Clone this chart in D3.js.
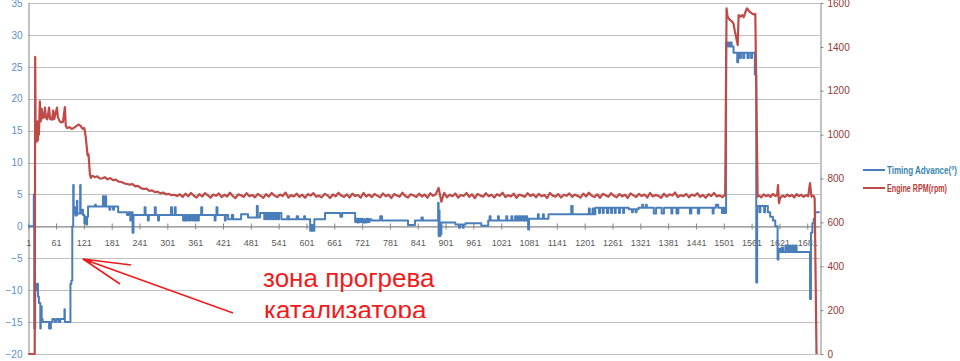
<!DOCTYPE html>
<html>
<head>
<meta charset="utf-8">
<script src="https://cdn.jsdelivr.net/npm/d3@7"></script>
<style>
  body { margin: 0; background: #fff; }
  svg { display: block; }
</style>
</head>
<body>
<div id="chart"></div>
<script>
// ---- data ----
const categoryCount = 1708;
const xTickLabels = [1, 61, 121, 181, 241, 301, 361, 421, 481, 541, 601, 661, 721, 781, 841, 901, 961,
    1021, 1081, 1141, 1201, 1261, 1321, 1381, 1441, 1501, 1561, 1621, 1681];
const advanceTicks = [-20, -15, -10, -5, 0, 5, 10, 15, 20, 25, 30, 35];
const rpmTicks = [0, 200, 400, 600, 800, 1000, 1200, 1400, 1600];

// Timing Advance: [sample, degrees] at each change of value (held until the next one)
const timingAdvance = [
    [1, 0], [13, 5], [14, -16], [16, -9], [18, -10], [20, -9], [22, -11], [24, -12], [27, -16], [28, -12.5],
    [30, -14.5], [32, -15], [46, -16], [47, -15], [49, -16], [50, -15], [53, -14.5], [58, -15], [62, -14.5],
    [67, -15], [70, -14.5], [75, -14.5], [79, -13], [80, -15], [92, -9], [94, -8.5], [96, 0], [98, 6.5],
    [99, 2], [101, 3], [103, 1.7], [106, 4], [107, 2], [113, 6.5], [114, 2], [117, 2.6], [119, 1.8],
    [122, 0.5], [124, 1.5], [126, 0.3], [128, 1.5], [130, 3.1], [145, 3.4], [147, 3.1], [162, 4.7],
    [164, 3.1], [167, 4.7], [169, 3.1], [176, 2.6], [178, 3.1], [184, 2.6], [186, 3.1], [195, 2.2],
    [214, 1.8], [217, 2.2], [221, 0.9], [223, 2.2], [226, -1], [228, 1.8], [252, 3], [254, 1.8],
    [259, 0.9], [261, 1.8], [274, 3], [276, 1.8], [281, 0.9], [283, 1.8], [309, 3], [311, 1.8], [317, 3],
    [319, 1.8], [335, 0.9], [338, 1.8], [341, 0.9], [344, 1.8], [348, 0.9], [351, 1.8], [355, 0.9],
    [358, 1.8], [361, 0.9], [364, 1.8], [367, 0.9], [369, 1.8], [374, 3], [376, 1.8], [403, 0.9],
    [405, 1.8], [407, 3], [409, 1.8], [425, 0.9], [427, 1.8], [432, 1.1], [440, 1.8], [443, 1.1],
    [460, 1.9], [475, 1.4], [494, 3.2], [496, 1.4], [501, 2.1], [510, 1.1], [512, 2.1], [516, 1.1],
    [518, 2.1], [522, 1.1], [524, 2.1], [528, 1.1], [530, 2.1], [534, 1.1], [536, 2.1], [540, 1.1],
    [542, 2.1], [547, 1.1], [560, 1.6], [563, 1.1], [580, 1.6], [583, 1.1], [596, 1.6], [598, 1.1],
    [609, -0.7], [612, 0.2], [614, -0.7], [618, 1.1], [641, 2.1], [674, 1.5], [678, 2.1], [706, 0.7],
    [709, 1.2], [711, 0.6], [714, 1.2], [716, 0.7], [719, 1.2], [722, 0.6], [725, 1.1], [728, 0.6],
    [731, 1.2], [734, 0.7], [737, 1.1], [741, 0.9], [760, 1.6], [764, 0.9], [820, 0.2], [835, 0.9],
    [849, 1.4], [852, 0.9], [885, 3.7], [886, -1.5], [887, 2.5], [888, -0.8], [889, -1.5], [890, 0.5],
    [891, -1.2], [892, 0.6], [922, 0.3], [930, -0.2], [932, 0.3], [938, -0.2], [940, 0.3], [944, 0.5],
    [978, 0.1], [993, 0.9], [996, 1.6], [998, 0.9], [1014, 1.6], [1016, 0.9], [1032, 1.6], [1034, 0.9],
    [1043, 1.6], [1045, 0.9], [1051, 1.6], [1054, 0.9], [1057, 1.6], [1060, 0.9], [1063, 1.6], [1066, 0.9],
    [1069, 1.6], [1072, 0.9], [1075, 1.6], [1077, 0.9], [1079, -0.5], [1081, 1.2], [1100, 1.9], [1102, 1.2],
    [1111, 1.9], [1113, 1.2], [1123, 1.9], [1172, 3.2], [1175, 1.9], [1210, 2.8], [1212, 1.9], [1218, 2.8],
    [1220, 1.9], [1224, 2.9], [1232, 2.1], [1234, 2.9], [1240, 2.1], [1242, 2.9], [1249, 2.1], [1252, 2.9],
    [1258, 2.1], [1260, 2.9], [1266, 2.1], [1268, 2.9], [1275, 2.1], [1277, 2.9], [1284, 2.1], [1286, 2.9],
    [1296, 2.7], [1303, 2.2], [1305, 2.7], [1311, 2.2], [1313, 2.7], [1317, 2.9], [1325, 3.4], [1327, 2.9],
    [1333, 3.4], [1335, 2.9], [1350, 2], [1355, 2.9], [1367, 2], [1372, 2.9], [1388, 2], [1390, 2.9],
    [1399, 2], [1403, 2.9], [1428, 2], [1431, 2.9], [1445, 2], [1448, 2.9], [1477, 2], [1479, 2.9],
    [1484, 3.4], [1489, 2.9], [1497, 2.1], [1500, 2.9], [1503, 2.1], [1506, 28.8], [1510, 28.2],
    [1512, 28.8], [1514, 28.2], [1516, 28.8], [1518, 28.2], [1522, 27.2], [1530, 25.7], [1532, 27.2],
    [1536, 26.4], [1538, 27.2], [1543, 26.4], [1545, 27.2], [1552, 26.4], [1555, 27.2], [1560, 26.4],
    [1562, 27.2], [1568, 23.8], [1571, -8.8], [1573, 3.2], [1578, 2.2], [1580, 3.2], [1588, 2.2],
    [1590, 3.2], [1596, 2.2], [1601, 1.5], [1607, 0.9], [1612, 0], [1617, -5.2], [1619, -3.5], [1623, -4],
    [1626, -3.3], [1629, -4], [1634, -3], [1637, -4], [1641, -3], [1644, -4], [1648, -3], [1651, -4],
    [1655, -3], [1658, -4], [1687, -11.4], [1689, -1], [1692, 0.5], [1695, 1.2], [1698, 2.2], [1708, 2.2]
];

// Engine RPM: warm-up part, [sample, rpm]
const rpmWarmup = [
    [1, 0], [15, 0], [16, 1354], [17, 990], [18, 966], [19, 1040], [20, 970], [21, 1060], [22, 975],
    [23, 1050], [24, 1000], [25, 1071], [26, 1152], [28, 1060], [30, 1117], [32, 1075], [35, 1080],
    [37, 1123], [39, 1078], [42, 1070], [46, 1123], [48, 1072], [52, 1068], [55, 1110], [57, 1070],
    [59, 1088], [63, 1123], [65, 1080], [68, 1065], [71, 1056], [76, 1058], [80, 1126], [82, 1040],
    [85, 1030], [90, 1034], [95, 1026], [100, 1032], [106, 1041], [110, 1046], [114, 1040], [118, 1027],
    [122, 1030], [125, 990], [127, 948], [129, 905], [131, 910], [134, 820], [136, 803], [140, 812],
    [145, 806], [150, 810], [155, 800]
];
// Engine RPM: idle, one reading every 6 samples from sample 160
const rpmIdleStart = 160;
const rpmIdleStep = 6;
const rpmIdle = [
    800, 806, 796, 802, 792, 795, 786, 784, 778, 775, 772, 774, 764, 766, 756, 752, 754, 744, 746, 738,
    740, 732, 736, 728, 730, 724, 726, 720,
    728, 716, 731, 719, 734, 722, 713, 729, 718, 733, 724, 712, 727, 721,
    732, 715, 726, 718, 735, 720, 711, 728, 723, 716, 733, 719, 725, 714,
    730, 721, 712, 729, 717, 734, 722, 715, 727, 720, 736, 713, 724, 718,
    731, 716, 726, 712, 729, 722, 733, 717, 721, 714, 730, 724, 711, 727,
    719, 735, 722, 716, 728, 713, 731, 720, 725, 712, 734, 718, 727, 715,
    730, 721, 714, 732, 719, 726, 711, 729, 723, 717, 735, 720, 713, 728,
    722, 716, 731, 718, 727, 712, 733, 721, 728, 757, 694, 735, 714, 726,
    719, 732, 713, 725, 720, 734, 716, 728, 711, 730, 722, 717, 733, 719,
    726, 713, 729, 721, 735, 715, 724, 718, 731, 712, 727, 722, 716, 733,
    720, 728, 714, 730, 719, 725, 711, 734, 722, 717, 729, 713, 726, 721,
    732, 716, 727, 720, 713, 731, 718, 735, 722, 715, 728, 712, 730, 724,
    717, 733, 721, 714, 729, 719, 726, 711, 732, 723, 716, 730, 720, 727,
    713, 734, 718, 725, 721, 712, 731, 717, 728, 722, 736, 715, 724, 719,
    730, 714, 727, 721, 733, 716, 725, 712, 729, 720, 734, 718, 723, 715
];
// Engine RPM: revving, back to idle and engine off, [sample, rpm]
const rpmRevAndStop = [
    [1504, 725], [1507, 1576], [1509, 1540], [1512, 1528], [1515, 1522], [1519, 1515], [1522, 1505],
    [1525, 1470], [1528, 1440], [1531, 1408], [1533, 1545], [1537, 1538], [1541, 1545], [1544, 1535],
    [1548, 1560], [1551, 1576], [1555, 1565], [1558, 1558], [1562, 1552], [1566, 1548], [1569, 1550],
    [1574, 717], [1577, 722], [1582, 714], [1587, 728], [1592, 719], [1597, 725], [1602, 716], [1607, 730],
    [1612, 720], [1616, 724], [1618, 770], [1620, 687], [1623, 712], [1628, 722], [1633, 716], [1638, 727],
    [1643, 719], [1648, 725], [1653, 714], [1658, 729], [1663, 720], [1668, 726], [1673, 716], [1678, 724],
    [1683, 719], [1687, 779], [1690, 717], [1694, 722], [1697, 710], [1701, 0]
];

const seriesNames = ["Timing Advance(°)", "Engine RPM(rpm)"];

// ---- layout ----
const W = 960, H = 361;
const plotLeft = 28, plotRight = 820, plotTop = 3, plotBottom = 354;
const BLUE = "#4a7ebb", RED = "#be4b48";
const FONT = "'Liberation Sans', Arial, sans-serif";

const engineRpm = rpmWarmup
    .concat(rpmIdle.map((v, i) => [rpmIdleStart + i * rpmIdleStep, v]))
    .concat(rpmRevAndStop);

const svg = d3.select("#chart").append("svg")
    .attr("width", W)
    .attr("height", H);

const x = d3.scaleLinear().domain([0.5, categoryCount + 0.5]).range([plotLeft, plotRight]);
const yLeft = d3.scaleLinear().domain([-20, 35]).range([plotBottom, plotTop]);
const yRight = d3.scaleLinear().domain([0, 1600]).range([plotBottom, plotTop]);
const crisp = v => Math.round(v) + 0.5;

// gridlines
svg.append("g").selectAll("line")
    .data(advanceTicks)
    .join("line")
    .attr("x1", plotLeft).attr("x2", plotRight)
    .attr("y1", d => crisp(yLeft(d))).attr("y2", d => crisp(yLeft(d)))
    .attr("stroke", "#bfbfbf")
    .attr("stroke-width", 1);

// left axis
const gLeft = svg.append("g")
    .attr("transform", `translate(${crisp(plotLeft)},0)`)
    .call(d3.axisLeft(yLeft).tickValues(advanceTicks).tickSize(0).tickPadding(6));
gLeft.select(".domain").attr("stroke", "#868686");
gLeft.selectAll("text").attr("fill", "#5b8fc9").attr("font-size", "10px").attr("font-family", FONT);

// right axis
const gRight = svg.append("g")
    .attr("transform", `translate(${crisp(plotRight)},0)`)
    .call(d3.axisRight(yRight).tickValues(rpmTicks).tickFormat(d3.format("d"))
        .tickSize(3).tickSizeOuter(0).tickPadding(4));
gRight.select(".domain").attr("stroke", "#868686");
gRight.selectAll(".tick line").attr("stroke", "#868686");
gRight.selectAll("text").attr("fill", "#953735").attr("font-size", "10px").attr("font-family", FONT);

// category axis, crossing at 0
const gX = svg.append("g")
    .attr("transform", `translate(0,${crisp(yLeft(0))})`)
    .call(d3.axisBottom(x).tickValues(xTickLabels).tickSize(3).tickSizeOuter(0).tickFormat(d3.format("d")));
gX.select(".domain").attr("stroke", "#868686");
gX.selectAll(".tick line").attr("stroke", "#868686").attr("y1", -3);
gX.selectAll("text").attr("fill", "#595959").attr("font-size", "9px").attr("font-family", FONT).attr("y", 13);

// series
const advanceLine = d3.line()
    .x(d => x(d[0]))
    .y(d => yLeft(d[1]))
    .curve(d3.curveStepAfter);
const rpmLine = d3.line()
    .x(d => x(d[0]))
    .y(d => yRight(d[1]));

svg.append("path")
    .datum(timingAdvance)
    .attr("d", advanceLine)
    .attr("fill", "none")
    .attr("stroke", BLUE)
    .attr("stroke-width", 2)
    .attr("stroke-linejoin", "round");

svg.append("path")
    .datum(engineRpm)
    .attr("d", rpmLine)
    .attr("fill", "none")
    .attr("stroke", RED)
    .attr("stroke-width", 2.2)
    .attr("stroke-linejoin", "round");

// legend
const legend = svg.append("g").attr("font-family", FONT).attr("font-size", "10px").attr("font-weight", "bold");
[[BLUE, "#3a86b0", 170, 70], [RED, "#b83c3a", 188, 60]].forEach((d, i) => {
    legend.append("line")
        .attr("x1", 863).attr("x2", 885)
        .attr("y1", d[2]).attr("y2", d[2])
        .attr("stroke", d[0]).attr("stroke-width", 2);
    legend.append("text")
        .attr("x", 887).attr("y", d[2])
        .attr("dy", "0.35em")
        .attr("fill", d[1])
        .attr("textLength", d[3])
        .attr("lengthAdjust", "spacingAndGlyphs")
        .text(seriesNames[i]);
});

// annotation: arrow and text
const NOTE = "#f01c1c";
const tip = [83, 259];
[[131, 265], [120, 284], [233, 313]].forEach(p => {
    svg.append("line")
        .attr("x1", tip[0]).attr("y1", tip[1])
        .attr("x2", p[0]).attr("y2", p[1])
        .attr("stroke", NOTE)
        .attr("stroke-width", 1.6);
});
svg.append("path")
    .attr("d", `M${tip[0]},${tip[1]} L${tip[0] + 9},${tip[1] + 1} L${tip[0] + 8},${tip[1] + 5} Z`)
    .attr("fill", NOTE);

svg.append("clipPath").attr("id", "noteClip")
    .append("rect").attr("x", 200).attr("y", 250).attr("width", 400).attr("height", 68);

const note = svg.append("g")
    .attr("clip-path", "url(#noteClip)")
    .attr("font-family", FONT)
    .attr("font-size", "26px")
    .attr("fill", NOTE);
note.append("text").attr("x", 263).attr("y", 287).text("зона прогрева");
note.append("text").attr("x", 264).attr("y", 319).text("катализатора");
</script>
</body>
</html>
